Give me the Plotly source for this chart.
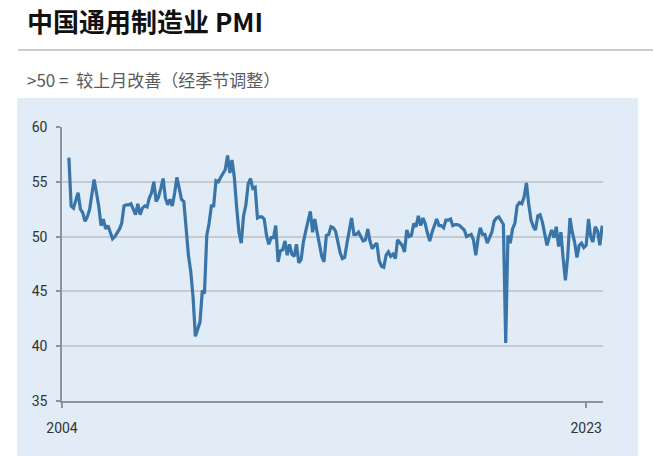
import pandas as pd
import plotly.graph_objects as go

# Monthly PMI readings (Apr 2004 - Aug 2023)
pmi_2004 = [57.2, 52.8, 52.6, 53.3, 54.0, 52.5, 52.2, 51.4, 51.8]
pmi_2005 = [52.5, 54.2, 55.2, 54.0, 52.8, 51.0, 51.6, 50.7, 51.0, 50.4, 49.8, 50.0]
pmi_2006 = [50.3, 50.7, 51.2, 52.8, 52.9, 52.9, 53.0, 52.5, 52.0, 53.0, 52.0, 52.6]
pmi_2007 = [52.8, 52.7, 53.5, 54.0, 55.0, 53.2, 53.6, 54.4, 55.3, 53.5, 52.9, 53.4]
pmi_2008 = [52.8, 54.0, 55.4, 54.4, 53.4, 53.2, 50.5, 48.3, 46.8, 44.5, 40.9, 41.5]
pmi_2009 = [42.2, 45.1, 44.8, 50.1, 51.2, 52.8, 52.8, 55.1, 55.0, 55.4, 55.7, 56.1]
pmi_2010 = [57.4, 55.8, 57.0, 55.4, 52.7, 50.4, 49.4, 51.9, 52.9, 54.8, 55.3, 54.4]
pmi_2011 = [54.5, 51.7, 51.8, 51.8, 51.6, 50.1, 49.3, 49.9, 49.9, 51.0, 47.7, 48.7]
pmi_2012 = [48.8, 49.6, 48.3, 49.3, 48.4, 48.2, 49.3, 47.6, 47.9, 49.5, 50.5, 51.5]
pmi_2013 = [52.3, 50.4, 51.6, 50.4, 49.2, 48.2, 47.7, 50.1, 50.2, 50.9, 50.8, 50.5]
pmi_2014 = [49.5, 48.5, 48.0, 48.1, 49.4, 50.7, 51.7, 50.2, 50.2, 50.4, 50.0, 49.6]
pmi_2015 = [49.7, 50.7, 49.6, 48.9, 49.2, 49.4, 47.8, 47.3, 47.2, 48.3, 48.6, 48.2]
pmi_2016 = [48.4, 48.0, 49.7, 49.4, 49.2, 48.6, 50.6, 50.0, 50.1, 51.2, 50.9, 51.9]
pmi_2017 = [51.0, 51.7, 51.2, 50.3, 49.6, 50.4, 51.1, 51.6, 51.0, 51.0, 50.8, 51.5]
pmi_2018 = [51.5, 51.6, 51.0, 51.1, 51.1, 51.0, 50.8, 50.6, 50.0, 50.1, 50.2, 49.7]
pmi_2019 = [48.3, 49.9, 50.8, 50.2, 50.2, 49.4, 49.9, 50.4, 51.4, 51.7, 51.8, 51.5]
pmi_2020 = [51.1, 40.3, 50.1, 49.4, 50.7, 51.2, 52.8, 53.1, 53.0, 53.6, 54.9, 53.0]
pmi_2021 = [51.5, 50.9, 50.6, 51.9, 52.0, 51.3, 50.3, 49.2, 50.0, 50.6, 49.9, 50.9]
pmi_2022 = [49.1, 50.4, 48.1, 46.0, 48.1, 51.7, 50.4, 49.5, 48.1, 49.2, 49.4, 49.0]
pmi_2023 = [49.2, 51.6, 50.0, 49.5, 50.9, 50.5, 49.2, 51.0]

start_month = '2004-04-01'
x_tick_vals = ['2004-01-01', '2023-01-01']
x_tick_text = ['2004', '2023']
y_tick_vals = [35, 40, 45, 50, 55, 60]

title_text = '中国通用制造业 PMI'
subtitle_text = '>50 =  较上月改善（经季节调整）'

# Build the monthly series
values = (pmi_2004 + pmi_2005 + pmi_2006 + pmi_2007 + pmi_2008 + pmi_2009
          + pmi_2010 + pmi_2011 + pmi_2012 + pmi_2013 + pmi_2014 + pmi_2015
          + pmi_2016 + pmi_2017 + pmi_2018 + pmi_2019 + pmi_2020 + pmi_2021
          + pmi_2022 + pmi_2023)
df = pd.DataFrame({
    'Date': pd.date_range(start=start_month, periods=len(values), freq='MS'),
    'PMI': values,
})

LINE_BLUE = '#3a75a9'
PANEL_BLUE = '#e1ecf6'
GRID_GREY = '#c6cbd1'
AXIS_GREY = '#8e939a'
TICK_FONT = 'Liberation Sans Narrow, Roboto, Liberation Sans, sans-serif'
CJK_FONT = 'Noto Sans CJK SC, Noto Sans, sans-serif'

fig = go.Figure()

fig.add_trace(go.Scatter(
    x=df['Date'],
    y=df['PMI'],
    mode='lines',
    line=dict(color=LINE_BLUE, width=3.2),
    hovertemplate='%{x|%b %Y}<br>PMI: %{y:.1f}<extra></extra>'
))

# Light blue panel behind the plot
fig.add_shape(type='rect', xref='paper', yref='paper',
              x0=-0.083, x1=1.065, y0=-0.21, y1=1.106,
              fillcolor=PANEL_BLUE, line=dict(width=0), layer='below')

# Rule under the title
fig.add_shape(type='line', xref='paper', yref='paper',
              x0=-0.081, x1=1.1, y0=1.281, y1=1.281,
              line=dict(color='#9a9a9a', width=1.2))

fig.add_annotation(text='<b>' + title_text + '</b>', xref='paper', yref='paper',
                   x=-0.068, y=1.388, xanchor='left', yanchor='middle',
                   showarrow=False, font=dict(family=CJK_FONT, size=26, color='#111111'))

fig.add_annotation(text=subtitle_text, xref='paper', yref='paper',
                   x=-0.068, y=1.175, xanchor='left', yanchor='middle',
                   showarrow=False, font=dict(family=CJK_FONT, size=17, color='#5a5a5a'))

fig.update_layout(
    width=653,
    height=456,
    margin=dict(l=62, r=50, t=127, b=55),
    paper_bgcolor='white',
    plot_bgcolor='rgba(0,0,0,0)',
    showlegend=False,
    xaxis=dict(
        type='date',
        range=['2004-01-01', '2023-08-12'],
        tickvals=x_tick_vals,
        ticktext=x_tick_text,
        ticks='outside',
        ticklen=5,
        tickwidth=1.5,
        tickcolor=AXIS_GREY,
        showgrid=False,
        showline=True,
        linecolor=AXIS_GREY,
        linewidth=1.5,
        ticklabelstandoff=8,
        tickfont=dict(family=TICK_FONT, size=14, color='#333333'),
        zeroline=False,
    ),
    yaxis=dict(
        range=[35, 60],
        tickvals=y_tick_vals,
        ticks='outside',
        ticklen=4,
        tickwidth=1.5,
        tickcolor=AXIS_GREY,
        showgrid=True,
        gridcolor=GRID_GREY,
        gridwidth=2,
        showline=True,
        linecolor=AXIS_GREY,
        linewidth=1.5,
        ticklabelstandoff=6,
        tickfont=dict(family=TICK_FONT, size=14, color='#333333'),
        zeroline=False,
    ),
)

# drop the page's default 8px body margin so the figure sits at the window corner
fig.write_html("out.html", config={'displayModeBar': False},
               post_script="document.body.style.margin = '0';")
